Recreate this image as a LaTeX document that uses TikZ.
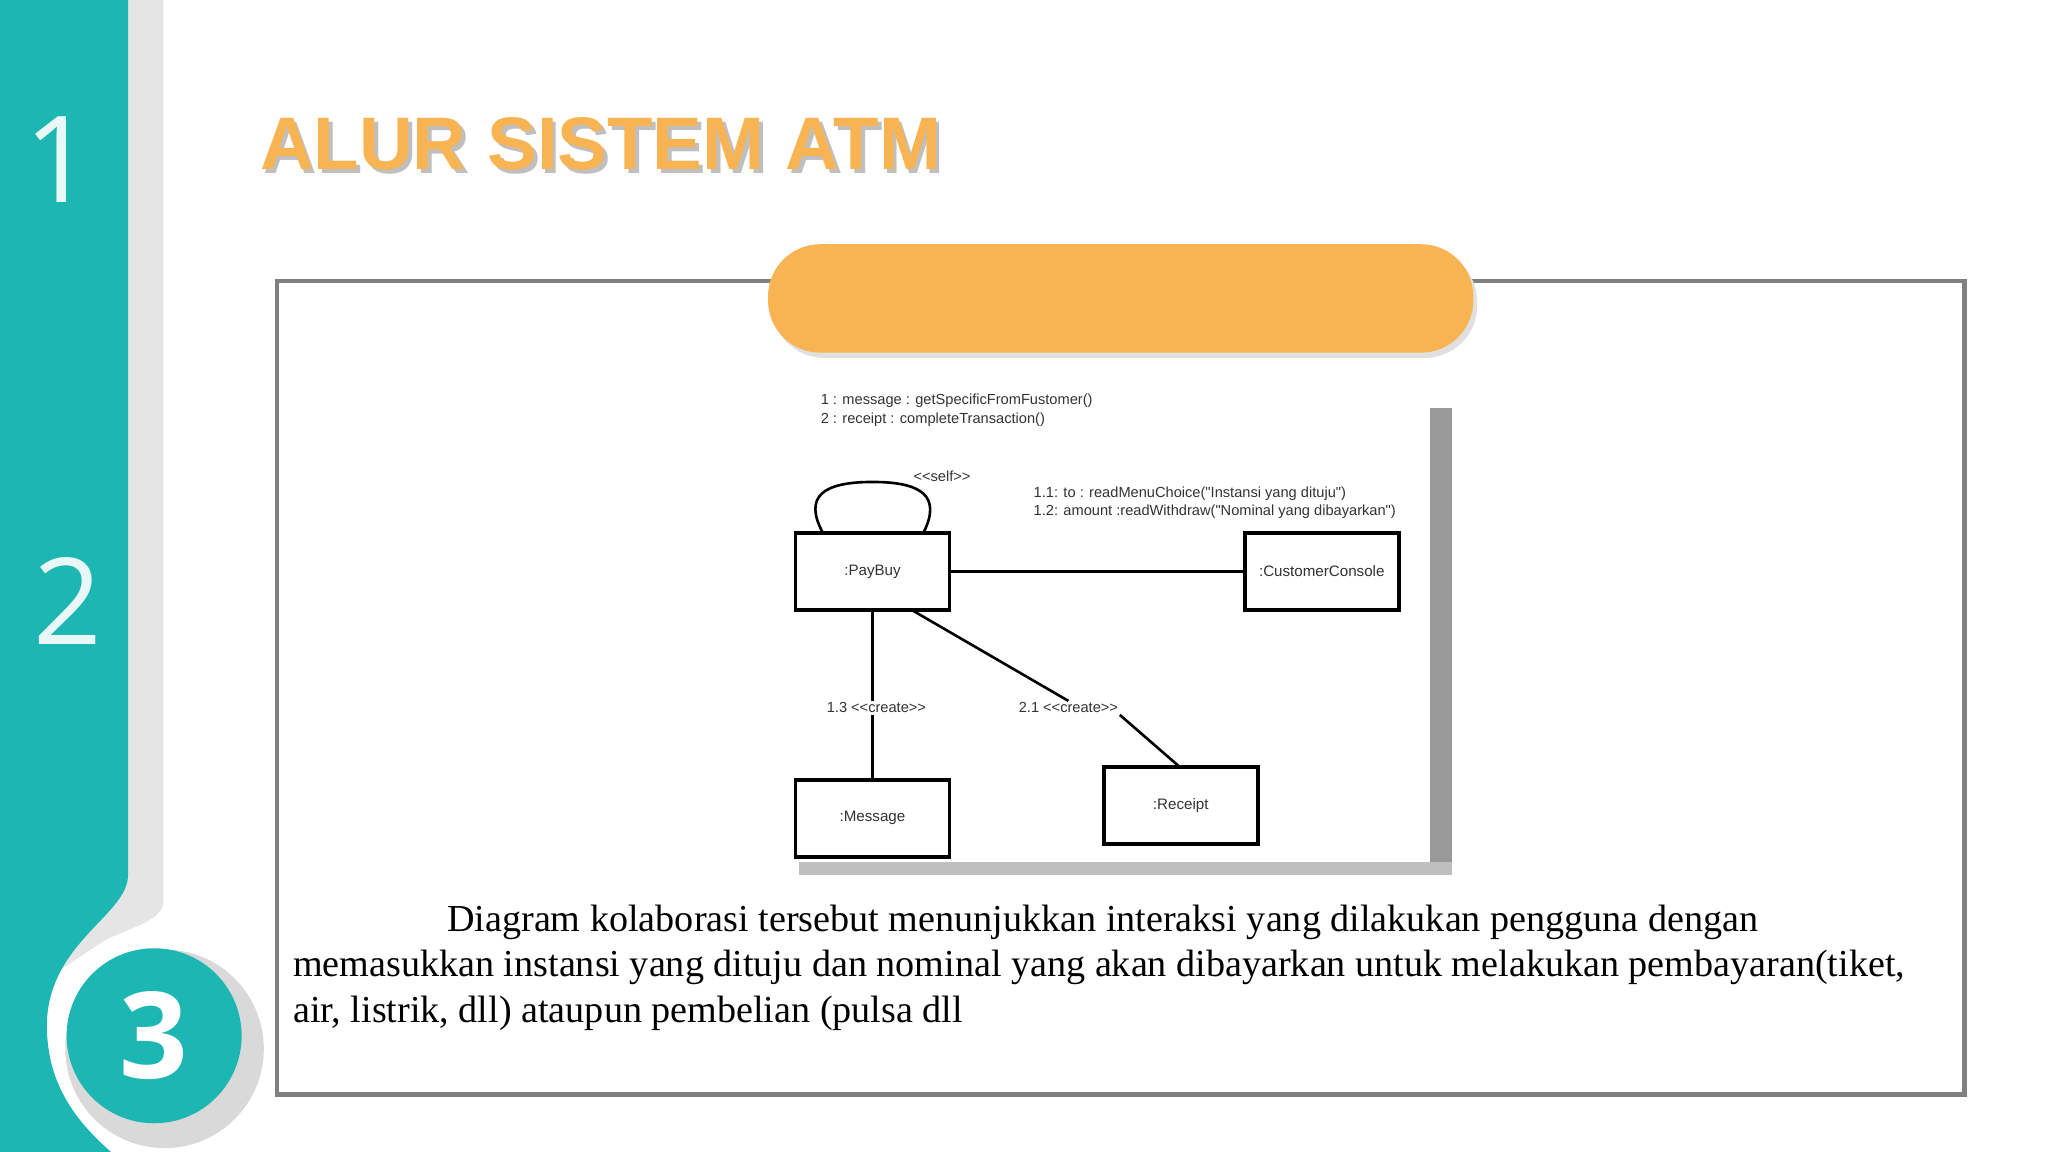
\documentclass[tikz,border=0pt]{standalone}
\usepackage{fontspec}
\setmainfont{Liberation Serif}
\newfontfamily\arialf{Liberation Sans}
\newfontfamily\numf{Open Sans}
\definecolor{teal}{HTML}{1DB7B3}
\definecolor{orng}{HTML}{F8B452}
\definecolor{frameg}{HTML}{808080}
\tikzset{umlbox/.style={draw=black,line width=1.4pt,minimum width=59pt,minimum height=29.5pt,inner sep=0pt,font=\arialf\fontsize{5.8}{6}\selectfont,text=black!80},
sm/.style={font=\arialf\fontsize{5.6}{6}\selectfont,text=black!80,inner sep=0.5pt},
bignum/.style={font=\numf\fontsize{46}{46}\selectfont}}
\begin{document}
\begin{tikzpicture}[x=0.5pt,y=-0.5pt]
\useasboundingbox (0,0) rectangle (1568,882);
\fill[white] (0,0) rectangle (1568,882);
% teal band with shadow
\fill[black!10] (98,0) -- (125,0) -- (125,690) .. controls (125,705) and (100,710) .. (80,720) -- (20,760) -- (20,882) -- (0,882) -- cycle;
\fill[black!15] (126,803) circle (76);
\fill[teal] (0,0) -- (98,0) -- (98,670) .. controls (98,700) and (40,720) .. (36,780) .. controls (34,830) and (60,860) .. (85,882) -- (0,882) -- cycle;
\node[circle,fill=teal,minimum size=67pt,inner sep=0pt] (c3) at (118,793) {};
\node[bignum,text=white!90!teal] (n1) at (45,122) {1};
\node[bignum,text=white!90!teal] (n2) at (52,460) {2};
\node[bignum,text=white,font=\numf\bfseries\fontsize{46}{46}\selectfont] (n3) at (c3) {3};
% title
\node[anchor=west,font=\arialf\bfseries\fontsize{28.5}{30}\selectfont,text=black!25] at (195,113) {ALUR SISTEM ATM};
\node[anchor=west,font=\arialf\bfseries\fontsize{28.5}{30}\selectfont,text=orng] (title) at (192,110) {ALUR SISTEM ATM};
% frame
\draw[frameg,line width=1.6pt] (212,215) rectangle (1504,838);
% pill
\fill[black!12,rounded corners=20pt] (591,191) rectangle (1131,274);
\fill[orng,rounded corners=20pt] (588,187) rectangle (1128,270);
% diagram image
\fill[black!40] (1095,312) rectangle (1112,668);
\fill[black!25] (612,660) rectangle (1112,670);
\fill[white] (605,297) rectangle (1095,660);
\node[sm,anchor=west] (t1) at (627,307) {1 : message : getSpecificFromFustomer()};
\node[sm,anchor=west] (t2) at (627,321) {2 : receipt : completeTransaction()};
\node[umlbox] (pay) at (668,437.5) {:PayBuy};
\node[umlbox] (cc) at (1012,437.5) {:CustomerConsole};
\node[umlbox] (msg) at (668,626.5) {:Message};
\node[umlbox] (rec) at (904,616.5) {:Receipt};
\coordinate (l1) at (630,408);
\coordinate (l2) at (707,408);
\draw[line width=1pt] (l1) .. controls (615,380) and (630,369) .. (668,369) .. controls (706,369) and (721,380) .. (l2);
\node[sm,anchor=west] (self) at (698,365) {<<self>>};
\node[sm,anchor=west] (m1) at (790,378) {1.1: to : readMenuChoice("Instansi yang dituju")};
\node[sm,anchor=west] (m2) at (790,392) {1.2: amount :readWithdraw("Nominal yang dibayarkan")};
\draw[line width=1pt] (pay.east) -- (cc.west);
\node[sm,fill=white] (c13) at (671,542) {1.3 <<create>>};
\draw[line width=1pt] (pay.south) -- (c13.north -| pay.south);
\draw[line width=1pt] (c13.south -| msg.north) -- (msg.north);
\node[sm,fill=white] (c21) at (818,542) {2.1 <<create>>};
\coordinate (d1) at (698,467);
\coordinate (d2) at (903,587);
\draw[line width=1pt] (d1) -- (c21.north);
\draw[line width=1pt] (c21.south east) -- (d2);
% paragraph
\tikzset{para/.style={anchor=base west,inner sep=0pt,font=\fontsize{14.6}{16}\selectfont}}
\node[para] (p1) at (342,713) {Diagram kolaborasi tersebut menunjukkan interaksi yang dilakukan pengguna dengan};
\node[para] (p2) at (224,748) {memasukkan instansi yang dituju dan nominal yang akan dibayarkan untuk melakukan pembayaran(tiket,};
\node[para] (p3) at (224,783) {air, listrik, dll) ataupun pembelian (pulsa dll};
\end{tikzpicture}
\end{document}
